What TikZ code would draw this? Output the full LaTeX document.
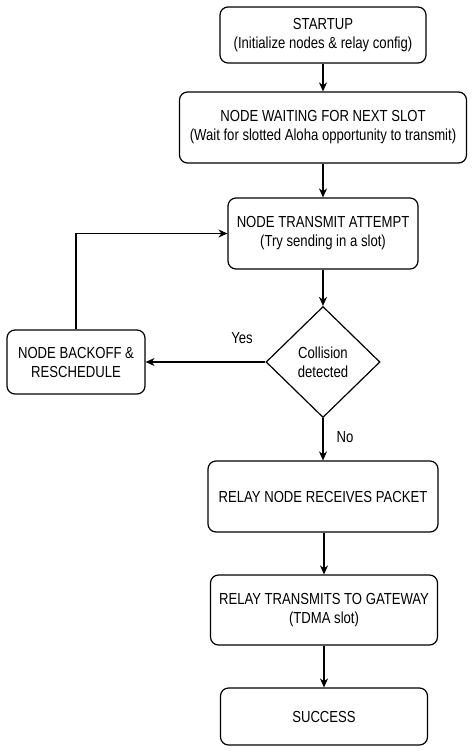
\documentclass[tikz,border=0pt]{standalone}
\usepackage{fontspec}
\setmainfont{Liberation Sans}[FakeStretch=0.82]
\usetikzlibrary{arrows.meta,shapes.geometric}

\begin{document}
\begin{tikzpicture}[
    x=1pt, y=-1pt,
    kasten/.style={
      rectangle,
      rounded corners=8pt,
      draw,
      line width=1.2pt,
      align=center,
      inner sep=0pt,
      font=\fontsize{16}{19}\selectfont},
    raute/.style={
      diamond,
      draw,
      line width=1.2pt,
      align=center,
      inner sep=0pt,
      minimum width=114pt,
      minimum height=111pt,
      font=\fontsize{16}{19}\selectfont},
    beschriftung/.style={font=\fontsize{16}{19}\selectfont},
    pfeil/.style={-{Stealth[length=9pt,width=8pt]}, line width=1.2pt}
    ]

  \useasboundingbox (0,0) rectangle (474,752);

  \node at (323,35) (start) [kasten, minimum width=206pt, minimum height=56pt] {STARTUP\\(Initialize nodes \& relay config)};

  \node at (323,127.5) (warten) [kasten, minimum width=287pt, minimum height=71pt] {NODE WAITING FOR NEXT SLOT\\(Wait for slotted Aloha opportunity to transmit)};

  \node at (323,233.5) (senden) [kasten, minimum width=190pt, minimum height=71pt] {NODE TRANSMIT ATTEMPT\\(Try sending in a slot)};

  \node at (323,362) (kollision) [raute] {Collision\\detected};

  \node at (76,362) (backoff) [kasten, minimum width=138pt, minimum height=64pt] {NODE BACKOFF \&\\RESCHEDULE};

  \node at (323,496.5) (empfang) [kasten, minimum width=230pt, minimum height=71pt] {RELAY NODE RECEIVES PACKET};

  \node at (324,610) (relay) [kasten, minimum width=227pt, minimum height=70pt] {RELAY TRANSMITS TO GATEWAY\\(TDMA slot)};

  \node at (324,716.5) (erfolg) [kasten, minimum width=207pt, minimum height=57pt] {SUCCESS};

  \node at (242,338) (ja) [beschriftung] {Yes};
  \node at (345,437) (nein) [beschriftung] {No};

  \path  [pfeil] (start) edge [] (warten);
  \path  [pfeil] (warten) edge [] (senden);
  \path  [pfeil] (senden) edge [] (kollision);
  \path  [pfeil] (kollision) edge [] (backoff);
  \path  [pfeil] (kollision) edge [] (empfang);
  \path  [pfeil] (empfang.south -| relay.north) edge [] (relay);
  \path  [pfeil] (relay) edge [] (erfolg);
  \draw  [pfeil] (backoff.north) |- (senden.west);

\end{tikzpicture}
\end{document}
